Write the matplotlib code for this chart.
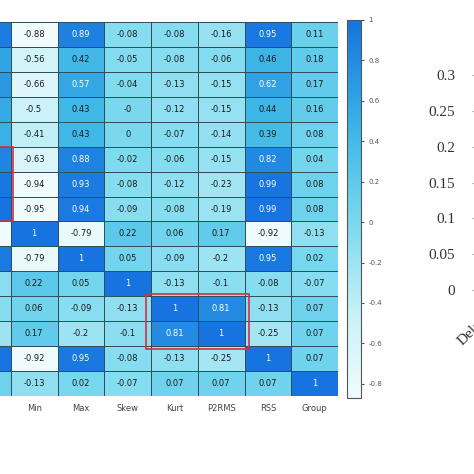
import numpy as np
import matplotlib
matplotlib.use("Agg")
import matplotlib.pyplot as plt
from matplotlib.colors import LinearSegmentedColormap, Normalize
from matplotlib.patches import Rectangle

columns = ["", "Min", "Max", "Skew", "Kurt", "P2RMS", "RSS", "Group"]
hidden_col = [0.92, 0.60, 0.70, 0.55, 0.50, 0.85, 0.96, 1, -0.95, 0.94, -0.09, -0.08, -0.19, 0.99, 0.08]
min_col   = [-0.88, -0.56, -0.66, -0.5, -0.41, -0.63, -0.94, -0.95, 1, -0.79, 0.22, 0.06, 0.17, -0.92, -0.13]
max_col   = [0.89, 0.42, 0.57, 0.43, 0.43, 0.88, 0.93, 0.94, -0.79, 1, 0.05, -0.09, -0.2, 0.95, 0.02]
skew_col  = [-0.08, -0.05, -0.04, -0.0, 0, -0.02, -0.08, -0.09, 0.22, 0.05, 1, -0.13, -0.1, -0.08, -0.07]
kurt_col  = [-0.08, -0.08, -0.13, -0.12, -0.07, -0.06, -0.12, -0.08, 0.06, -0.09, -0.13, 1, 0.81, -0.13, 0.07]
p2rms_col = [-0.16, -0.06, -0.15, -0.15, -0.14, -0.15, -0.23, -0.19, 0.17, -0.2, -0.1, 0.81, 1, -0.25, 0.07]
rss_col   = [0.95, 0.46, 0.62, 0.44, 0.39, 0.82, 0.99, 0.99, -0.92, 0.95, -0.08, -0.13, -0.25, 1, 0.07]
group_col = [0.11, 0.18, 0.17, 0.16, 0.08, 0.04, 0.08, 0.08, -0.13, 0.02, -0.07, 0.07, 0.07, 0.07, 1]
min_labels = ["-0.88", "-0.56", "-0.66", "-0.5", "-0.41", "-0.63", "-0.94", "-0.95", "1", "-0.79", "0.22", "0.06", "0.17", "-0.92", "-0.13"]
skew_labels = ["-0.08", "-0.05", "-0.04", "-0", "0", "-0.02", "-0.08", "-0.09", "0.22", "0.05", "1", "-0.13", "-0.1", "-0.08", "-0.07"]
right_ticks = [0, 0.05, 0.1, 0.15, 0.2, 0.25, 0.3]

M = np.array([hidden_col, min_col, max_col, skew_col, kurt_col, p2rms_col, rss_col, group_col]).T
nr, nc = M.shape

cmap = LinearSegmentedColormap.from_list("c", [
    (0.0, "#f0fbfd"), (0.22, "#c8f1f8"), (0.47, "#78d8ee"),
    (0.72, "#3ab4e6"), (1.0, "#1673e0")])
norm = Normalize(-0.87, 1)

fig = plt.figure(figsize=(4.74, 4.74), dpi=100)
ax = fig.add_axes([-36/474, 78/474, 374/474, 374/474])
ax.pcolormesh(np.arange(nc+1), np.arange(nr+1), M, cmap=cmap, norm=norm,
              edgecolor="#2f4f5a", linewidth=0.5)
ax.set_xlim(0, nc); ax.set_ylim(nr, 0)
for i in range(nr):
    for j in range(1, nc):
        v = M[i, j]
        if j == 1:
            s = min_labels[i]
        elif j == 3:
            s = skew_labels[i]
        else:
            s = ("%g" % v)
        ax.text(j+0.5, i+0.5, s, ha="center", va="center", fontsize=6,
                color="white" if v > 0.5 else "#1a1a1a")
ax.set_xticks(np.arange(nc)+0.5)
ax.set_xticklabels(columns, fontsize=6, color="#444444")
ax.tick_params(length=0, pad=6)
ax.set_yticks([])
for s in ax.spines.values():
    s.set_visible(False)
ax.add_patch(Rectangle((-0.5, 5), 1.55, 3, fill=False, ec="#d0304a", lw=1.2, clip_on=False))
ax.add_patch(Rectangle((3.9, 10.9), 2.2, 2.2, fill=False, ec="#d0304a", lw=1.2, clip_on=False))

cax = fig.add_axes([347/474, 76/474, 14/474, 378/474])
sm = plt.cm.ScalarMappable(norm=norm, cmap=cmap)
cb = fig.colorbar(sm, cax=cax, ticks=[-0.8, -0.6, -0.4, -0.2, 0, 0.2, 0.4, 0.6, 0.8, 1])
cb.ax.set_yticklabels(["-0.8", "-0.6", "-0.4", "-0.2", "0", "0.2", "0.4", "0.6", "0.8", "1"])
cb.ax.tick_params(labelsize=5, length=2, colors="#555555")
cb.outline.set_edgecolor("#555555")

rax = fig.add_axes([476/474, 184/474, 0.3, (290-75)/474])
rax.set_ylim(0, 0.3)
rax.set_yticks(right_ticks)
rax.set_yticklabels(["0", "0.05", "0.1", "0.15", "0.2", "0.25", "0.3"],
                    fontfamily="Liberation Serif", fontsize=11, color="#333333")
rax.tick_params(axis="y", length=3, pad=12, colors="#aaaaaa", labelcolor="#333333")
rax.set_xticks([])
fig.text(455/474, 1 - 345/474, "Delay", rotation=45, fontfamily="Liberation Serif",
         fontsize=11, color="#333333")

fig.savefig("out.png", dpi=100)
